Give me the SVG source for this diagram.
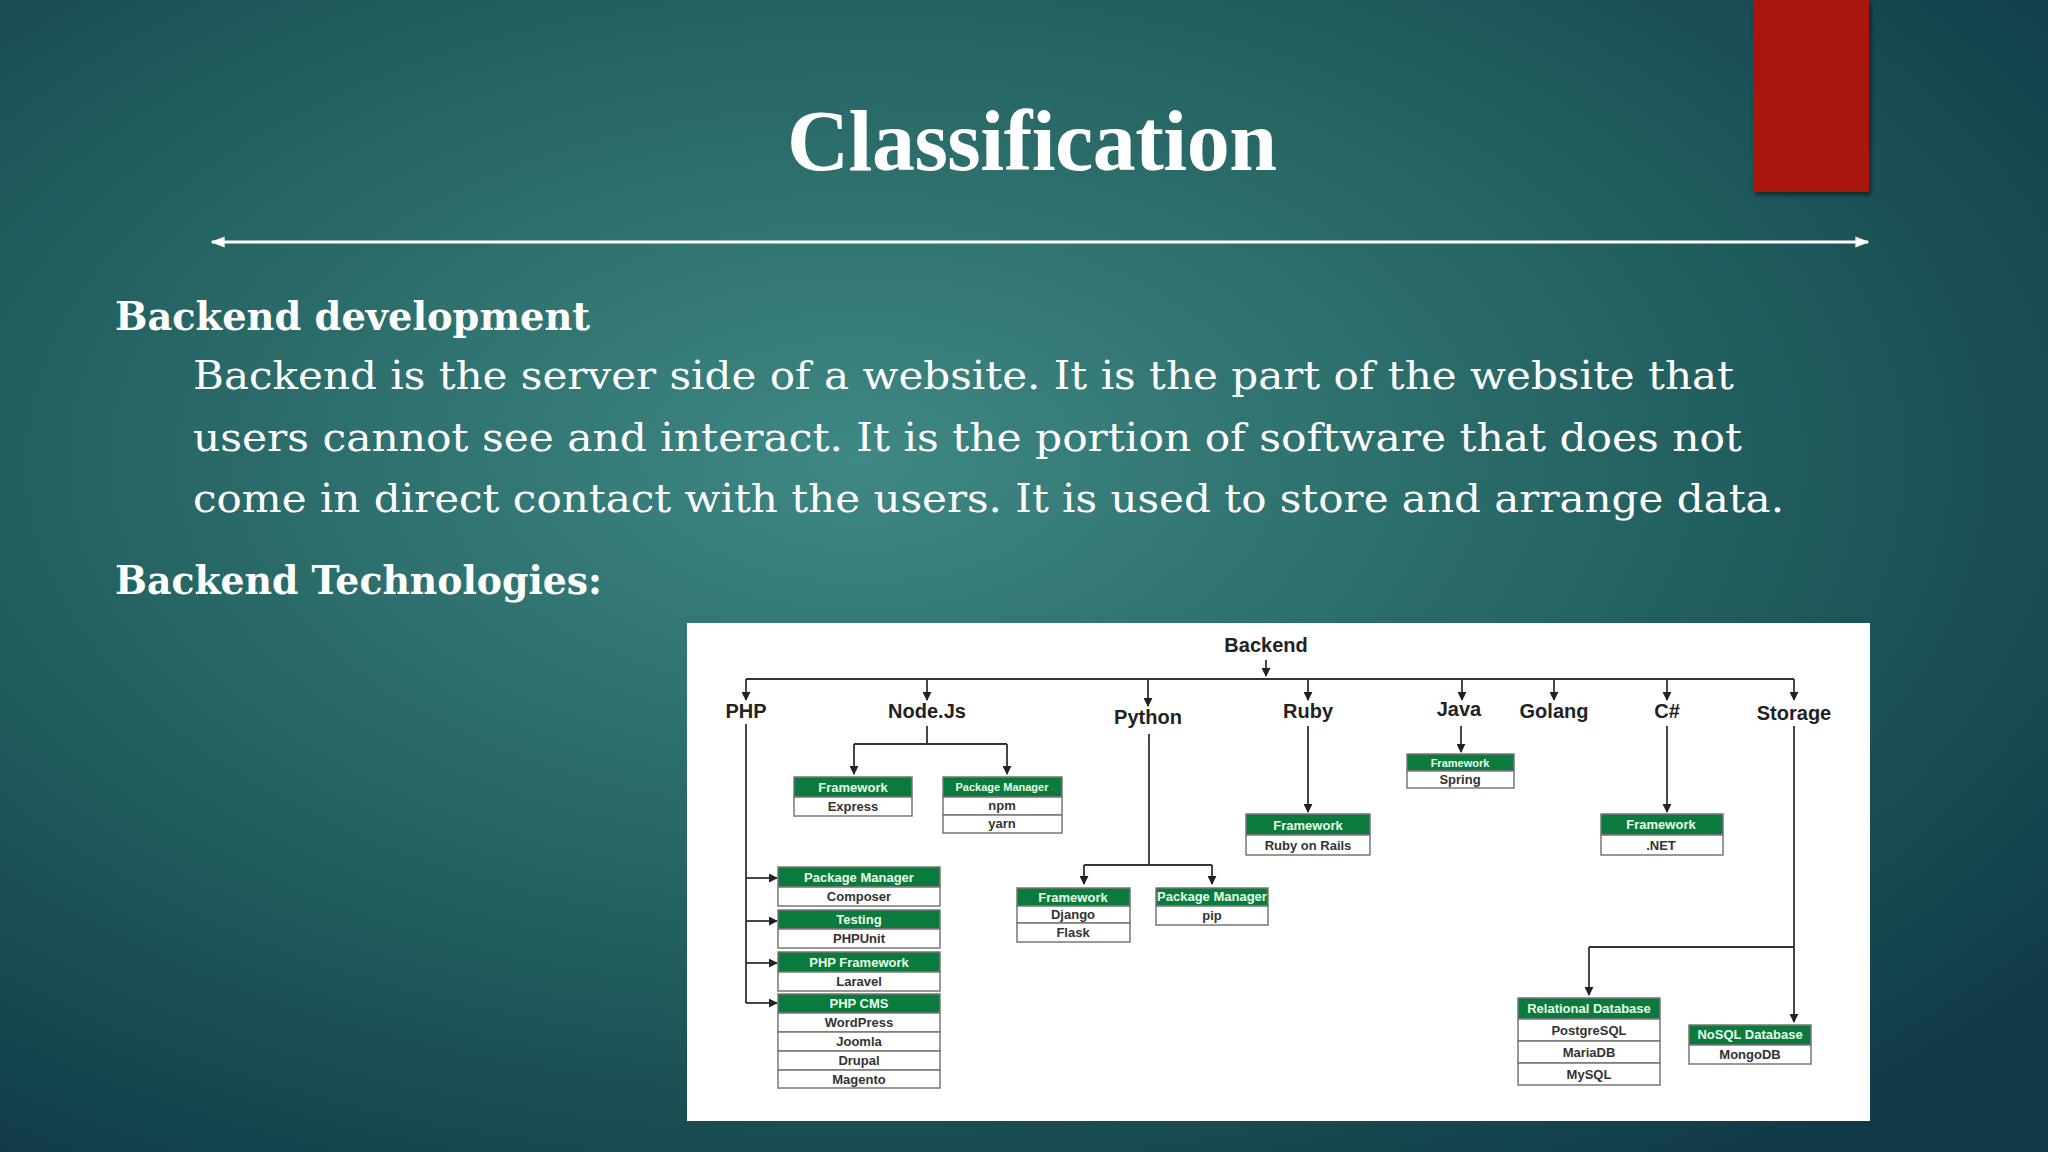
<svg xmlns="http://www.w3.org/2000/svg" width="2048" height="1152" viewBox="0 0 2048 1152">
<defs>
<radialGradient id="bg" cx="0.42" cy="0.4" r="0.75">
<stop offset="0" stop-color="#3f8884"/>
<stop offset="0.55" stop-color="#22605f"/>
<stop offset="1" stop-color="#0f3a47"/>
</radialGradient>
<marker id="ah" viewBox="0 0 10 10" refX="9" refY="5" markerWidth="9" markerHeight="9" markerUnits="userSpaceOnUse" orient="auto"><path d="M0,0 L10,5 L0,10 z" fill="#222"/></marker>
<marker id="wa" viewBox="0 0 10 10" refX="9" refY="5" markerWidth="14" markerHeight="14" markerUnits="userSpaceOnUse" orient="auto-start-reverse"><path d="M0,1 L10,5 L0,9 z" fill="#fff"/></marker>
<filter id="sh"><feDropShadow dx="2" dy="3" stdDeviation="2" flood-opacity="0.5"/></filter>
</defs>
<style>
.wt{fill:#fff;font-family:"Liberation Serif",serif}
.bw{fill:#fff;font-family:"DejaVu Serif",serif}
.lbl{font-family:"Liberation Sans",Arial,sans-serif;font-weight:bold;fill:#222;font-size:20px;text-anchor:middle}
.hd{fill:#0b7a3d;stroke:#777;stroke-width:1.5}
.bd{fill:#fff;stroke:#777;stroke-width:1.5}
.ht{font-family:"Liberation Sans",Arial,sans-serif;font-weight:bold;fill:#e8ffe8;font-size:13px;text-anchor:middle}
.hs{font-size:11px}
.bt{font-family:"Liberation Sans",Arial,sans-serif;font-weight:bold;fill:#333;font-size:13px;text-anchor:middle}
.ln{fill:none;stroke:#333;stroke-width:1.8}
.la{fill:none;stroke:#333;stroke-width:1.8;marker-end:url(#ah)}
</style>
<rect width="2048" height="1152" fill="url(#bg)"/>
<rect x="1753" y="0" width="116" height="192" fill="#a8150f" filter="url(#sh)"/>
<text class="wt" x="1032" y="170" font-size="86" font-weight="bold" text-anchor="middle" textLength="490">Classification</text>
<line x1="212" y1="242" x2="1868" y2="242" stroke="#fff" stroke-width="3" marker-start="url(#wa)" marker-end="url(#wa)"/>
<text class="bw" x="115" y="330" font-size="40" font-weight="bold" textLength="475" lengthAdjust="spacingAndGlyphs">Backend development</text>
<text class="bw" x="193" y="389" font-size="40" textLength="1541" lengthAdjust="spacingAndGlyphs">Backend is the server side of a website. It is the part of the website that</text>
<text class="bw" x="193" y="451" font-size="40" textLength="1549" lengthAdjust="spacingAndGlyphs">users cannot see and interact. It is the portion of software that does not</text>
<text class="bw" x="193" y="512" font-size="40" textLength="1591" lengthAdjust="spacingAndGlyphs">come in direct contact with the users. It is used to store and arrange data.</text>
<text class="bw" x="115" y="594" font-size="40" font-weight="bold" textLength="487" lengthAdjust="spacingAndGlyphs">Backend Technologies:</text>
<rect x="687" y="623" width="1183" height="498" fill="#fff"/>
<g id="connectors">
<line class="la" x1="1266" y1="660" x2="1266" y2="676"/>
<line class="ln" x1="746" y1="679" x2="1794" y2="679"/>
<line class="la" x1="746" y1="679" x2="746" y2="700"/>
<line class="la" x1="927" y1="679" x2="927" y2="700"/>
<line class="la" x1="1148" y1="679" x2="1148" y2="706"/>
<line class="la" x1="1308" y1="679" x2="1308" y2="700"/>
<line class="la" x1="1462" y1="679" x2="1462" y2="700"/>
<line class="la" x1="1554" y1="679" x2="1554" y2="700"/>
<line class="la" x1="1667" y1="679" x2="1667" y2="700"/>
<line class="la" x1="1794" y1="679" x2="1794" y2="700"/>
<path class="ln" d="M927,726 V744 M854,744 H1007"/>
<line class="la" x1="854" y1="744" x2="854" y2="774"/>
<line class="la" x1="1007" y1="744" x2="1007" y2="774"/>
<path class="ln" d="M746,724 V1003"/>
<line class="la" x1="746" y1="878" x2="777" y2="878"/>
<line class="la" x1="746" y1="921" x2="777" y2="921"/>
<line class="la" x1="746" y1="963" x2="777" y2="963"/>
<line class="la" x1="746" y1="1003" x2="777" y2="1003"/>
<path class="ln" d="M1149,734 V865 M1084,865 H1212"/>
<line class="la" x1="1084" y1="865" x2="1084" y2="884"/>
<line class="la" x1="1212" y1="865" x2="1212" y2="884"/>
<line class="la" x1="1308" y1="726" x2="1308" y2="812"/>
<line class="la" x1="1461" y1="726" x2="1461" y2="752"/>
<line class="la" x1="1667" y1="726" x2="1667" y2="812"/>
<line class="la" x1="1794" y1="726" x2="1794" y2="1022"/>
<path class="ln" d="M1794,947 H1589"/>
<line class="la" x1="1589" y1="947" x2="1589" y2="995"/>
</g>
<g id="labels">
<text class="lbl" x="1266" y="652" font-size="24">Backend</text>
<text class="lbl" x="746" y="718">PHP</text>
<text class="lbl" x="927" y="718">Node.Js</text>
<text class="lbl" x="1148" y="724">Python</text>
<text class="lbl" x="1308" y="718">Ruby</text>
<text class="lbl" x="1459" y="716">Java</text>
<text class="lbl" x="1554" y="718">Golang</text>
<text class="lbl" x="1667" y="718">C#</text>
<text class="lbl" x="1794" y="720">Storage</text>
</g>
<g id="node-express">
<rect class="hd" x="794" y="777" width="118" height="20"/><rect class="bd" x="794" y="797" width="118" height="19"/>
<text class="ht" x="853" y="792">Framework</text><text class="bt" x="853" y="811">Express</text>
</g>
<g id="node-npm">
<rect class="hd" x="943" y="777" width="119" height="20"/><rect class="bd" x="943" y="797" width="119" height="18"/><rect class="bd" x="943" y="815" width="119" height="18"/>
<text class="ht hs" x="1002" y="791">Package Manager</text><text class="bt" x="1002" y="810">npm</text><text class="bt" x="1002" y="828">yarn</text>
</g>
<g id="node-php">
<rect class="hd" x="778" y="867" width="162" height="20"/><rect class="bd" x="778" y="887" width="162" height="19"/>
<rect class="hd" x="778" y="910" width="162" height="19"/><rect class="bd" x="778" y="929" width="162" height="19"/>
<rect class="hd" x="778" y="952" width="162" height="20"/><rect class="bd" x="778" y="972" width="162" height="19"/>
<rect class="hd" x="778" y="994" width="162" height="19"/><rect class="bd" x="778" y="1013" width="162" height="19"/><rect class="bd" x="778" y="1032" width="162" height="19"/><rect class="bd" x="778" y="1051" width="162" height="19"/><rect class="bd" x="778" y="1070" width="162" height="18"/>
<text class="ht" x="859" y="882">Package Manager</text><text class="bt" x="859" y="901">Composer</text>
<text class="ht" x="859" y="924">Testing</text><text class="bt" x="859" y="943">PHPUnit</text>
<text class="ht" x="859" y="967">PHP Framework</text><text class="bt" x="859" y="986">Laravel</text>
<text class="ht" x="859" y="1008">PHP CMS</text><text class="bt" x="859" y="1027">WordPress</text><text class="bt" x="859" y="1046">Joomla</text><text class="bt" x="859" y="1065">Drupal</text><text class="bt" x="859" y="1084">Magento</text>
</g>
<g id="node-django">
<rect class="hd" x="1017" y="888" width="113" height="18"/><rect class="bd" x="1017" y="906" width="113" height="17"/><rect class="bd" x="1017" y="923" width="113" height="19"/>
<text class="ht" x="1073" y="902">Framework</text><text class="bt" x="1073" y="919">Django</text><text class="bt" x="1073" y="937">Flask</text>
</g>
<g id="node-pip">
<rect class="hd" x="1156" y="888" width="112" height="18"/><rect class="bd" x="1156" y="906" width="112" height="19"/>
<text class="ht" x="1212" y="901" font-size="9.5">Package Manager</text><text class="bt" x="1212" y="920">pip</text>
</g>
<g id="node-rails">
<rect class="hd" x="1246" y="814" width="124" height="21"/><rect class="bd" x="1246" y="835" width="124" height="20"/>
<text class="ht" x="1308" y="830" font-size="14">Framework</text><text class="bt" x="1308" y="850">Ruby on Rails</text>
</g>
<g id="node-spring">
<rect class="hd" x="1407" y="754" width="107" height="17"/><rect class="bd" x="1407" y="771" width="107" height="17"/>
<text class="ht hs" x="1460" y="767">Framework</text><text class="bt" x="1460" y="784" font-size="11">Spring</text>
</g>
<g id="node-net">
<rect class="hd" x="1601" y="814" width="122" height="21"/><rect class="bd" x="1601" y="835" width="122" height="20"/>
<text class="ht" x="1661" y="829" font-size="12">Framework</text><text class="bt" x="1661" y="850" font-size="11">.NET</text>
</g>
<g id="node-rdb">
<rect class="hd" x="1518" y="998" width="142" height="21"/><rect class="bd" x="1518" y="1019" width="142" height="22"/><rect class="bd" x="1518" y="1041" width="142" height="22"/><rect class="bd" x="1518" y="1063" width="142" height="22"/>
<text class="ht" x="1589" y="1013" font-size="12">Relational Database</text><text class="bt" x="1589" y="1035">PostgreSQL</text><text class="bt" x="1589" y="1057">MariaDB</text><text class="bt" x="1589" y="1079">MySQL</text>
</g>
<g id="node-nosql">
<rect class="hd" x="1689" y="1025" width="122" height="20"/><rect class="bd" x="1689" y="1045" width="122" height="19"/>
<text class="ht" x="1750" y="1039" font-size="11">NoSQL Database</text><text class="bt" x="1750" y="1059" font-size="12">MongoDB</text>
</g>
</svg>
